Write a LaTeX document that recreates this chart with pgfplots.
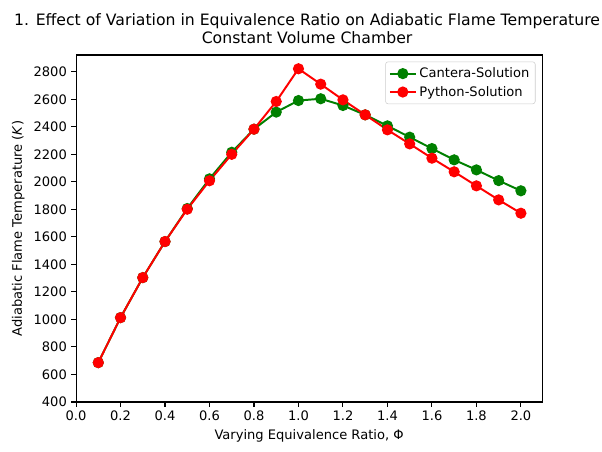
\documentclass[border=0pt]{standalone}
\usepackage{fontspec}
\setmainfont{DejaVu Sans}
\usepackage{pgfplots}
\pgfplotsset{compat=1.18}

\definecolor{mplgreen}{RGB}{0,128,0}
\definecolor{mplred}{RGB}{255,0,0}

\begin{document}
\begin{tikzpicture}
% page = 6.4in x 4.8in figure
\path[use as bounding box] (-58.2pt,-37.9pt) rectangle (402.6pt,307.7pt);
\begin{axis}[
    scale only axis,
    width=356.7pt,
    height=265.6pt,
    xmin=0, xmax=2.095,
    ymin=400, ymax=2922,
    xtick={0,0.2,...,2.01},
    ytick={400,600,...,2800},
    /pgf/number format/assume math mode=true,
    /pgf/number format/1000 sep={},
    xticklabel style={/pgf/number format/fixed, /pgf/number format/fixed zerofill, /pgf/number format/precision=1},
    tick label style={font=\fontsize{10}{12}\selectfont},
    tick align=outside,
    major tick length=3.5pt,
    tick style={line width=0.8pt, black},
    axis line style={line width=0.8pt},
    xtick pos=bottom, ytick pos=left,
    xlabel={Varying Equivalence Ratio, Φ},
    ylabel={Adiabatic Flame Temperature (\textit{K})},
    label style={font=\fontsize{10}{12}\selectfont},
    title={1. Effect of Variation in Equivalence Ratio on Adiabatic Flame Temperature\\Constant Volume Chamber},
    title style={font=\fontsize{12}{13.5}\selectfont, align=center, yshift=-1pt, xshift=-1.5pt},
    legend style={at={(1,1)}, anchor=north east, xshift=-5pt, yshift=-5pt,
        draw=black!20, rounded corners=2pt, fill=white, font=\fontsize{10}{12}\selectfont,
        inner sep=2.5pt, row sep=1pt},
    legend cell align=left,
    legend image code/.code={
        \draw[mark repeat=2, mark phase=2] plot coordinates {(0pt,0pt) (10pt,0pt) (20pt,0pt)};
    },
    every axis plot/.append style={line width=1.5pt, mark=*, mark size=3.5pt},
]
\addplot[color=mplgreen, mark options={fill=mplgreen, draw=mplgreen}] coordinates {
    (0.1,686) (0.2,1013) (0.3,1304) (0.4,1566) (0.5,1806)
    (0.6,2022) (0.7,2215) (0.8,2383) (0.9,2507) (1.0,2591)
    (1.1,2604) (1.2,2555) (1.3,2487) (1.4,2407) (1.5,2325)
    (1.6,2242) (1.7,2160) (1.8,2087) (1.9,2009) (2.0,1935)
};
\addlegendentry{Cantera-Solution}
\addplot[color=mplred, mark options={fill=mplred, draw=mplred}] coordinates {
    (0.1,686) (0.2,1013) (0.3,1304) (0.4,1566) (0.5,1801)
    (0.6,2008) (0.7,2200) (0.8,2383) (0.9,2584) (1.0,2822)
    (1.1,2710) (1.2,2596) (1.3,2487) (1.4,2378) (1.5,2276)
    (1.6,2172) (1.7,2073) (1.8,1971) (1.9,1869) (2.0,1772)
};
\addlegendentry{Python-Solution}
\end{axis}
\end{tikzpicture}
\end{document}
